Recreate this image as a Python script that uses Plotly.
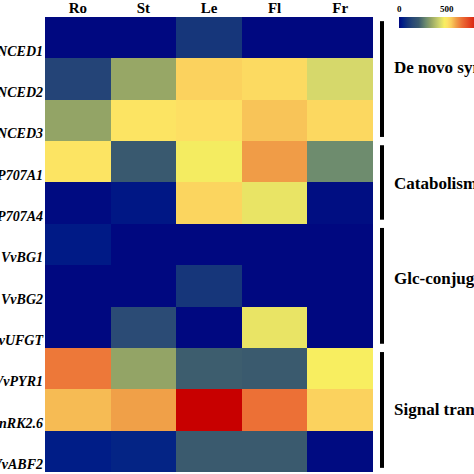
import plotly.graph_objects as go

# ---- data ----
tissues = ["Ro", "St", "Le", "Fl", "Fr"]
genes = ["VvNCED1", "VvNCED2", "VvNCED3", "VvCYP707A1", "VvCYP707A4",
         "VvBG1", "VvBG2", "VvUFGT", "VvPYR1", "VvSnRK2.6", "VvABF2"]
nced1 = [0, 0, 90, 0, 0]
nced2 = [130, 335, 530, 515, 425]
nced3 = [330, 495, 505, 550, 520]
cyp707a1 = [495, 200, 465, 595, 280]
cyp707a4 = [5, 25, 525, 450, 10]
bg1 = [30, 0, 0, 0, 0]
bg2 = [0, 0, 90, 0, 0]
ufgt = [0, 150, 0, 450, 0]
pyr1 = [640, 330, 210, 205, 470]
snrk26 = [560, 590, 860, 650, 530]
abf2 = [35, 50, 205, 205, 5]
z = [nced1, nced2, nced3, cyp707a1, cyp707a4, bg1, bg2, ufgt, pyr1, snrk26, abf2]

groups = ["De novo synthesis", "Catabolism", "Glc-conjugation", "Signal transduction"]
group_rows = [(0, 2), (3, 4), (5, 7), (8, 10)]
cb_ticks = [0, 500]
zmax = 860

# ---- style ----
stops = [
    (0, "rgb(0,8,128)"), (40, "rgb(0,32,136)"), (90, "rgb(22,54,122)"),
    (140, "rgb(40,72,118)"), (205, "rgb(58,90,110)"), (280, "rgb(110,140,110)"),
    (330, "rgb(147,164,102)"), (420, "rgb(210,214,108)"), (470, "rgb(248,238,96)"),
    (500, "rgb(253,226,100)"), (540, "rgb(250,205,92)"), (590, "rgb(240,160,72)"),
    (650, "rgb(236,112,54)"), (740, "rgb(225,60,30)"), (860, "rgb(200,0,0)"),
]
colorscale = [[v / zmax, c] for v, c in stops]
serif = "Liberation Serif"

W, H = 474, 474
L, R, T, B = 45, 101, 17, 2
plot_w = W - L - R
plot_h = H - T - B

cb_x0 = 399
cb_len = 83

def px_to_paper_x(px):
    return (px - L) / plot_w

fig = go.Figure(go.Heatmap(
    z=z, x=list(range(len(tissues))), y=list(range(len(genes))),
    colorscale=colorscale, zmin=0, zmax=zmax,
    colorbar=dict(orientation="h", xref="paper", yref="paper",
                  x=px_to_paper_x(cb_x0), xanchor="left",
                  y=1, yanchor="top",
                  lenmode="pixels", len=cb_len, thickness=11,
                  xpad=0, ypad=0, outlinewidth=0, showticklabels=False,
                  ticks=""),
))

fig.update_layout(
    width=W, height=H, margin=dict(l=L, r=R, t=T, b=B, autoexpand=False),
    paper_bgcolor="white", plot_bgcolor="white",
    xaxis=dict(side="top", tickvals=list(range(len(tissues))), ticktext=tissues,
               ticks="", showgrid=False, zeroline=False, range=[-0.5, 4.5],
               automargin=False,
               tickfont=dict(family=serif, size=15, color="black", weight="bold")),
    yaxis=dict(tickvals=list(range(len(genes))), ticktext=genes, ticks="",
               showgrid=False, zeroline=False, range=[10.5, -0.5],
               automargin=False, ticklabelstandoff=1, ticklabelshift=-13,
               tickfont=dict(family=serif, size=14, color="black",
                             weight="bold", style="italic")),
)

# group bars and labels
bar_x = px_to_paper_x(382)
lab_x = px_to_paper_x(392)
label_y = [0.73, 3.52, 5.82, 9.0]
for (r0, r1), name, ly in zip(group_rows, groups, label_y):
    fig.add_shape(type="line", xref="paper", yref="y", x0=bar_x, x1=bar_x,
                  y0=r0 - 0.4, y1=min(r1 + 0.4, 10.5),
                  line=dict(color="black", width=4))
    fig.add_annotation(xref="paper", yref="y", x=lab_x, y=ly, text=name,
                       showarrow=False, xanchor="left", yanchor="middle",
                       font=dict(family=serif, size=17, color="black", weight="bold"))

# colorbar tick labels above the bar
for v in cb_ticks:
    px = cb_x0 + v / zmax * cb_len
    fig.add_annotation(xref="paper", yref="paper",
                       x=px_to_paper_x(px), y=1 + (T - 9) / plot_h,
                       text=str(v), showarrow=False, xanchor="center", yanchor="middle",
                       font=dict(family=serif, size=9, color="black", weight="bold"))

fig.write_html("out.html")
